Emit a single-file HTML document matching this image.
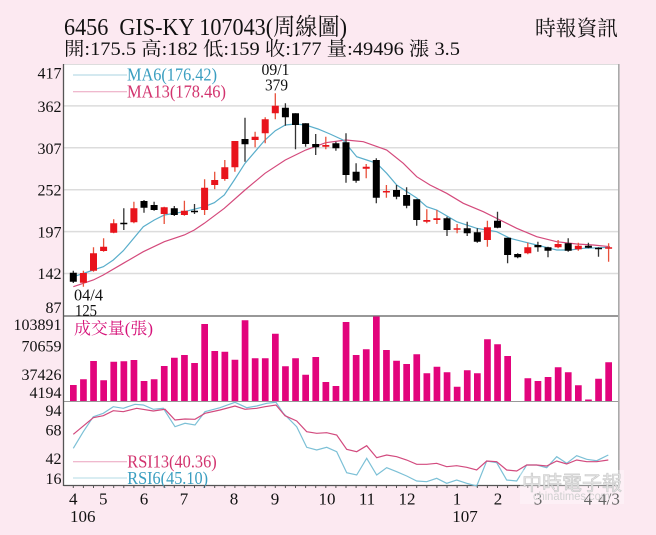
<!DOCTYPE html>
<html><head><meta charset="utf-8">
<style>
html,body{margin:0;padding:0;background:#fce9f1;}
svg{display:block;}
text{font-family:"Liberation Serif","Noto Serif CJK SC",serif;}
</style></head>
<body>
<svg width="656" height="535" viewBox="0 0 656 535" xmlns="http://www.w3.org/2000/svg">
<rect x="0" y="0" width="656" height="535" fill="#fce9f1"/>
<text x="64" y="35" font-size="24" fill="#111" textLength="283" lengthAdjust="spacingAndGlyphs" style="white-space:pre">6456  GIS-KY 107043(周線圖)</text>
<text x="64" y="55" font-size="19" fill="#111" textLength="396" lengthAdjust="spacingAndGlyphs">開:175.5 高:182 低:159 收:177 量:49496 漲 3.5</text>
<text x="535" y="35.5" font-size="21" fill="#111" textLength="83" lengthAdjust="spacingAndGlyphs">時報資訊</text>

<rect x="63.5" y="64" width="555" height="421.5" fill="#ffffff"/>
<line x1="63.5" y1="64.5" x2="618.5" y2="64.5" stroke="#dddddd" stroke-width="1"/>
<path d="M64 105.9H618M64 147.8H618M64 189.7H618M64 231.6H618M64 273.5H618" stroke="#dcdcdc" stroke-width="1.5" fill="none"/>
<path d="M63.5 316H618.5" stroke="#777" stroke-width="1.5"/>
<path d="M63.5 401.5H618.5" stroke="#999" stroke-width="1"/>
<path d="M63.5 485.5H618.5" stroke="#555" stroke-width="1.2"/>
<path d="M63.5 64V486" stroke="#555" stroke-width="1.3"/>
<path d="M618.8 64V488" stroke="#aaa" stroke-width="1.6"/>

<g font-size="16" fill="#111" text-anchor="end">
<text x="61.5" y="78.6">417</text>
<text x="61.5" y="112">362</text>
<text x="61.5" y="154">307</text>
<text x="61.5" y="195.5">252</text>
<text x="61.5" y="237.5">197</text>
<text x="61.5" y="278.8">142</text>
<text x="61.5" y="313">87</text>
<text x="61.5" y="330">103891</text>
<text x="61.5" y="351.5">70659</text>
<text x="61.5" y="380">37426</text>
<text x="61.5" y="398">4194</text>
<text x="61.5" y="416">94</text>
<text x="61.5" y="435.5">68</text>
<text x="61.5" y="464">42</text>
<text x="61.5" y="484">16</text>
</g>

<path d="M73 75H127" stroke="#a9d3e0" stroke-width="1"/>
<path d="M73 91.7H127" stroke="#eaa2bd" stroke-width="1"/>
<text x="127" y="80.5" font-size="18" fill="#3a9ec0" textLength="90" lengthAdjust="spacingAndGlyphs">MA6(176.42)</text>
<text x="127" y="97.5" font-size="18" fill="#d2336e" textLength="99" lengthAdjust="spacingAndGlyphs">MA13(178.46)</text>
<text x="275.5" y="75" font-size="17" fill="#111" text-anchor="middle" textLength="28" lengthAdjust="spacingAndGlyphs">09/1</text>
<text x="276.5" y="90.7" font-size="17" fill="#111" text-anchor="middle" textLength="23" lengthAdjust="spacingAndGlyphs">379</text>
<text x="88.5" y="300.7" font-size="17" fill="#111" text-anchor="middle" textLength="29" lengthAdjust="spacingAndGlyphs">04/4</text>
<text x="86" y="316" font-size="17" fill="#111" text-anchor="middle" textLength="22" lengthAdjust="spacingAndGlyphs">125</text>

<polyline fill="none" stroke="#d44a7c" stroke-width="1.2" points="73.3,286.7 93.3,280 103.3,275 123.3,263.3 143.3,251.7 164.3,241.7 184.3,235 194.3,230 204.3,223.3 224.3,208.3 245,190 265,173.3 285.3,160 305.7,150 325.7,142.7 346,140 363.3,141.7 386.7,150 403.3,163.3 416.7,176.7 430,185 446.7,193.3 463.3,203.3 483.3,211.7 500,220 516.7,228.3 536.7,236.7 556.7,241.7 576.7,244 593.3,245 610,246.7"/>
<polyline fill="none" stroke="#5aaecb" stroke-width="1.2" points="73.3,276.7 83.3,273.5 93.3,270 103.3,266.7 113.3,260 123.3,250.7 143.3,226.7 154.3,220 164.3,215 184.3,211.7 204.3,206.7 214.3,202.7 224.3,195 234.3,180 245,163.3 255,151.7 265,140 275.3,130.7 285.3,125 295.3,124 305.7,125 318,129 330,134 343,140 356.7,156.7 366.7,160 376.7,163.3 386.7,173.3 396.7,185 416.7,198 426.7,206.7 436.7,210 456.7,221.7 476.7,228.3 486.7,230 496.7,231.7 510,238.3 523.3,241.7 536.7,245 556.7,250 570,250 583.3,248.3 610,247.3"/>

<path fill="none" stroke="#333" stroke-width="1.3" d="M73.3 270.7V283M123.8 208.3V230M144 200V212.7M154.1 201.7V210.7M174.3 206V216M194.5 204V214M245 117.7V161.7M285.4 103.3V125.7M295.5 113.3V149.3M305.6 123.3V146.7M315.7 134V155M335.9 141.7V150.7M346 133.3V182.7M356.1 163.3V182.7M376.3 158.3V203.3M396.5 185V199.3M406.6 187.3V208.3M416.7 199.3V225.7M447 216.7V236M467.2 221.7V236M477.3 228.3V242.7M497.5 211.7V228.3M507.6 237.7V263.3M517.7 253.3V258.3M537.9 241.7V251.7M548 246.7V257.3M568.2 238.3V251.7M588.4 242.7V248.3M598.5 247.3V256.7"/>
<path fill="none" stroke="#e8503a" stroke-width="1.3" d="M83.4 270.7V286.7M93.5 247.3V271.7M103.6 238.3V251.7M113.7 219.3V233.3M133.9 201.7V223.3M164.2 206.7V224M184.4 200.7V215.7M204.6 179.3V215M214.7 171.7V189.3M224.8 160V180.7M234.9 141V171.7M255.1 131.7V147.3M265.2 117.3V143.3M275.3 93.3V119.3M325.8 136.7V149.3M366.2 164V178.3M386.4 185V197.7M426.8 209.3V223.3M436.9 210V224M457.1 224V233.3M487.4 220.7V246.7M527.8 242.7V254.3M558.1 240V248.3M578.3 242.7V250.7M608.6 243.3V261.7"/>

<path fill="#000" d="M69.8 272.7h7v9h-7zM120.3 222.7h7v1.5h-7zM140.5 201h7v6.7h-7zM150.6 205h7v5h-7zM170.8 208.3h7v6.7h-7zM191 210.7h7v1.5h-7zM241.5 139h7v5.3h-7zM281.9 107.7h7v9.6h-7zM292 113.3h7v11.7h-7zM302.1 123.3h7v20.7h-7zM312.2 144h7v3.3h-7zM332.4 143.3h7v5h-7zM342.5 142.3h7v32.7h-7zM352.6 171.7h7v9h-7zM372.8 160h7v37.7h-7zM393 190h7v6.7h-7zM403.1 195h7v10.7h-7zM413.2 199.3h7v20.7h-7zM443.5 218.3h7v11.7h-7zM463.7 228.3h7v5h-7zM473.8 232.3h7v9.4h-7zM494 220.7h7v7h-7zM504.1 237.7h7v17.3h-7zM514.2 254h7v3.3h-7zM534.4 245h7v2.3h-7zM544.5 247.3h7v3.4h-7zM564.7 243.3h7v7.4h-7zM584.9 245.7h7v2h-7zM595 247.7h7v1.6h-7z"/>
<path fill="#e8141c" d="M79.9 273h7v9.7h-7zM90 253.3h7v17.4h-7zM100.1 246.7h7v4.3h-7zM110.2 223.3h7v9.4h-7zM130.4 208.3h7v14h-7zM160.7 207.3h7v6.7h-7zM180.9 210.7h7v4.3h-7zM201.1 187.7h7v22.3h-7zM211.2 180h7v5h-7zM221.3 167.3h7v11.7h-7zM231.4 141h7v26.3h-7zM251.6 136.7h7v3.3h-7zM261.7 119.3h7v14h-7zM271.8 105.7h7v7.6h-7zM322.3 145h7v1.7h-7zM362.7 166.7h7v2h-7zM382.9 191h7v1.5h-7zM423.3 220h7v1.7h-7zM433.4 218.3h7v1.7h-7zM453.6 228.3h7v1.5h-7zM483.9 227.3h7v12.7h-7zM524.3 247.3h7v6h-7zM554.6 244h7v3.3h-7zM574.8 245.7h7v3.6h-7zM605.1 247.3h7v1.5h-7z"/>

<text x="74" y="334" font-size="16.5" fill="#d6137a" textLength="79" lengthAdjust="spacingAndGlyphs">成交量(張)</text>
<path fill="#e2047c" d="M70 401V385h6.7V401zM80.1 401V379.3h6.7V401zM90.2 401V361h6.7V401zM100.3 401V380.3h6.7V401zM110.4 401V361.7h6.7V401zM120.5 401V361.3h6.7V401zM130.6 401V360h6.7V401zM140.7 401V381h6.7V401zM150.8 401V379.3h6.7V401zM160.9 401V366h6.7V401zM171 401V357.7h6.7V401zM181.1 401V355h6.7V401zM191.2 401V363h6.7V401zM201.3 401V324h6.7V401zM211.4 401V351h6.7V401zM221.5 401V351.7h6.7V401zM231.6 401V359.7h6.7V401zM241.7 401V320.3h6.7V401zM251.8 401V358.3h6.7V401zM261.9 401V358.3h6.7V401zM272 401V333.7h6.7V401zM282.1 401V366.3h6.7V401zM292.2 401V358.3h6.7V401zM302.3 401V374.7h6.7V401zM312.4 401V357h6.7V401zM322.5 401V382h6.7V401zM332.6 401V386h6.7V401zM342.7 401V322h6.7V401zM352.8 401V355h6.7V401zM362.9 401V349.3h6.7V401zM373 401V316.5h6.7V401zM383.1 401V350h6.7V401zM393.2 401V360.7h6.7V401zM403.3 401V364h6.7V401zM413.4 401V354.3h6.7V401zM423.5 401V373.3h6.7V401zM433.6 401V366.7h6.7V401zM443.7 401V372.3h6.7V401zM453.8 401V386.7h6.7V401zM463.9 401V370.3h6.7V401zM474 401V373.3h6.7V401zM484.1 401V339.3h6.7V401zM494.2 401V344.3h6.7V401zM504.3 401V356h6.7V401zM524.5 401V378.3h6.7V401zM534.6 401V381h6.7V401zM544.7 401V377h6.7V401zM554.8 401V367.3h6.7V401zM564.9 401V372.3h6.7V401zM575 401V385.3h6.7V401zM585.1 401V399.5h6.7V401zM595.2 401V378.7h6.7V401zM605.3 401V362.3h6.7V401z"/>

<path d="M73 461.7H127" stroke="#eaa2bd" stroke-width="1"/>
<path d="M73 478H127" stroke="#b3dbe6" stroke-width="1"/>
<text x="127.3" y="467.5" font-size="18" fill="#d2336e" textLength="89.4" lengthAdjust="spacingAndGlyphs">RSI13(40.36)</text>
<text x="127.3" y="484" font-size="18" fill="#3a9ec0" textLength="80.7" lengthAdjust="spacingAndGlyphs">RSI6(45.10)</text>
<polyline fill="none" stroke="#7cc0d6" stroke-width="1.2" points="73.3,448.3 83.3,431.7 93.3,416.7 103.3,413.3 113.3,406.7 123.3,408.3 135,404.3 143.3,405 153.3,409.3 163.3,408.3 175,426.7 185,423.3 195,425 205,411.7 220,407.7 235,402.3 246.7,407.7 256.7,406 266.7,403.3 276,402.3 283.3,413.3 296.7,426.7 306.7,447.3 316.7,450 326.7,447.3 336.7,451.7 346.7,472.7 356.7,475 366.7,458.3 376.7,475 386.7,467.7 396.7,471.7 406.7,476 416.7,481 426.7,481.7 436.7,478.3 446.7,483.3 456.7,480 466.7,483.3 476.7,486 486.7,461 496.7,462.7 506.7,480 516.7,481 526.7,465 536.7,465 546.7,467.7 556.7,456.7 566.7,463.3 576.7,455.7 586.7,459.3 596.7,460.7 608.3,455"/>
<polyline fill="none" stroke="#d24a7e" stroke-width="1.2" points="73.3,434.3 93.3,417.7 103.3,415.7 113.3,410.7 123.3,411.7 136.7,408.3 153.3,411 165,409.3 175,420 185,419 195,419.3 205,413.3 220,410 235,406 245,409.3 256.7,408.3 265,406.7 276,405 285,415.7 296.7,421 306.7,431.7 316.7,433.3 326.7,432.7 336.7,435 346.7,449.3 356.7,451.7 366.7,445.7 376.7,457.7 386.7,455 396.7,456.7 406.7,460 416.7,464.3 426.7,464.3 436.7,463.3 446.7,466.7 456.7,465.7 466.7,467.3 476.7,470 486.7,461 496.7,461.7 506.7,470 516.7,471 526.7,465 536.7,465 546.7,466 556.7,461 566.7,464 576.7,460 586.7,461.7 596.7,461.7 608.3,460"/>

<path d="M72.8 486.8H610" stroke="#555" stroke-width="2.5" stroke-dasharray="1 9.1"/>
<g font-size="17" fill="#111" text-anchor="middle">
<text x="73.3" y="504.5">4</text>
<text x="103.3" y="504.5">5</text>
<text x="144" y="504.5">6</text>
<text x="184" y="504.5">7</text>
<text x="234" y="504.5">8</text>
<text x="275" y="504.5">9</text>
<text x="327" y="504.5">10</text>
<text x="367" y="504.5">11</text>
<text x="407" y="504.5">12</text>
<text x="457" y="504.5">1</text>
<text x="498" y="504.5">2</text>
<text x="538" y="504.5">3</text>
<text x="588" y="504.5">4</text>
<text x="609" y="504.5">4/3</text>
<text x="82.7" y="522">106</text>
<text x="465" y="522">107</text>
</g>

<rect x="520" y="470" width="104" height="34" fill="#ffffff" opacity="0.35"/>
<text x="522" y="490" font-size="20" fill="#e6e6e6" stroke="#c8c8c8" stroke-width="0.6" textLength="100" lengthAdjust="spacingAndGlyphs" style="font-family:'Noto Sans CJK TC','Noto Sans CJK SC',sans-serif">中時電子報</text>
<text x="533" y="500" font-size="12" fill="#d0d0d0" textLength="77" lengthAdjust="spacingAndGlyphs" style="font-family:'Liberation Sans',sans-serif">chinatimes.com</text>
</svg>
</body></html>
